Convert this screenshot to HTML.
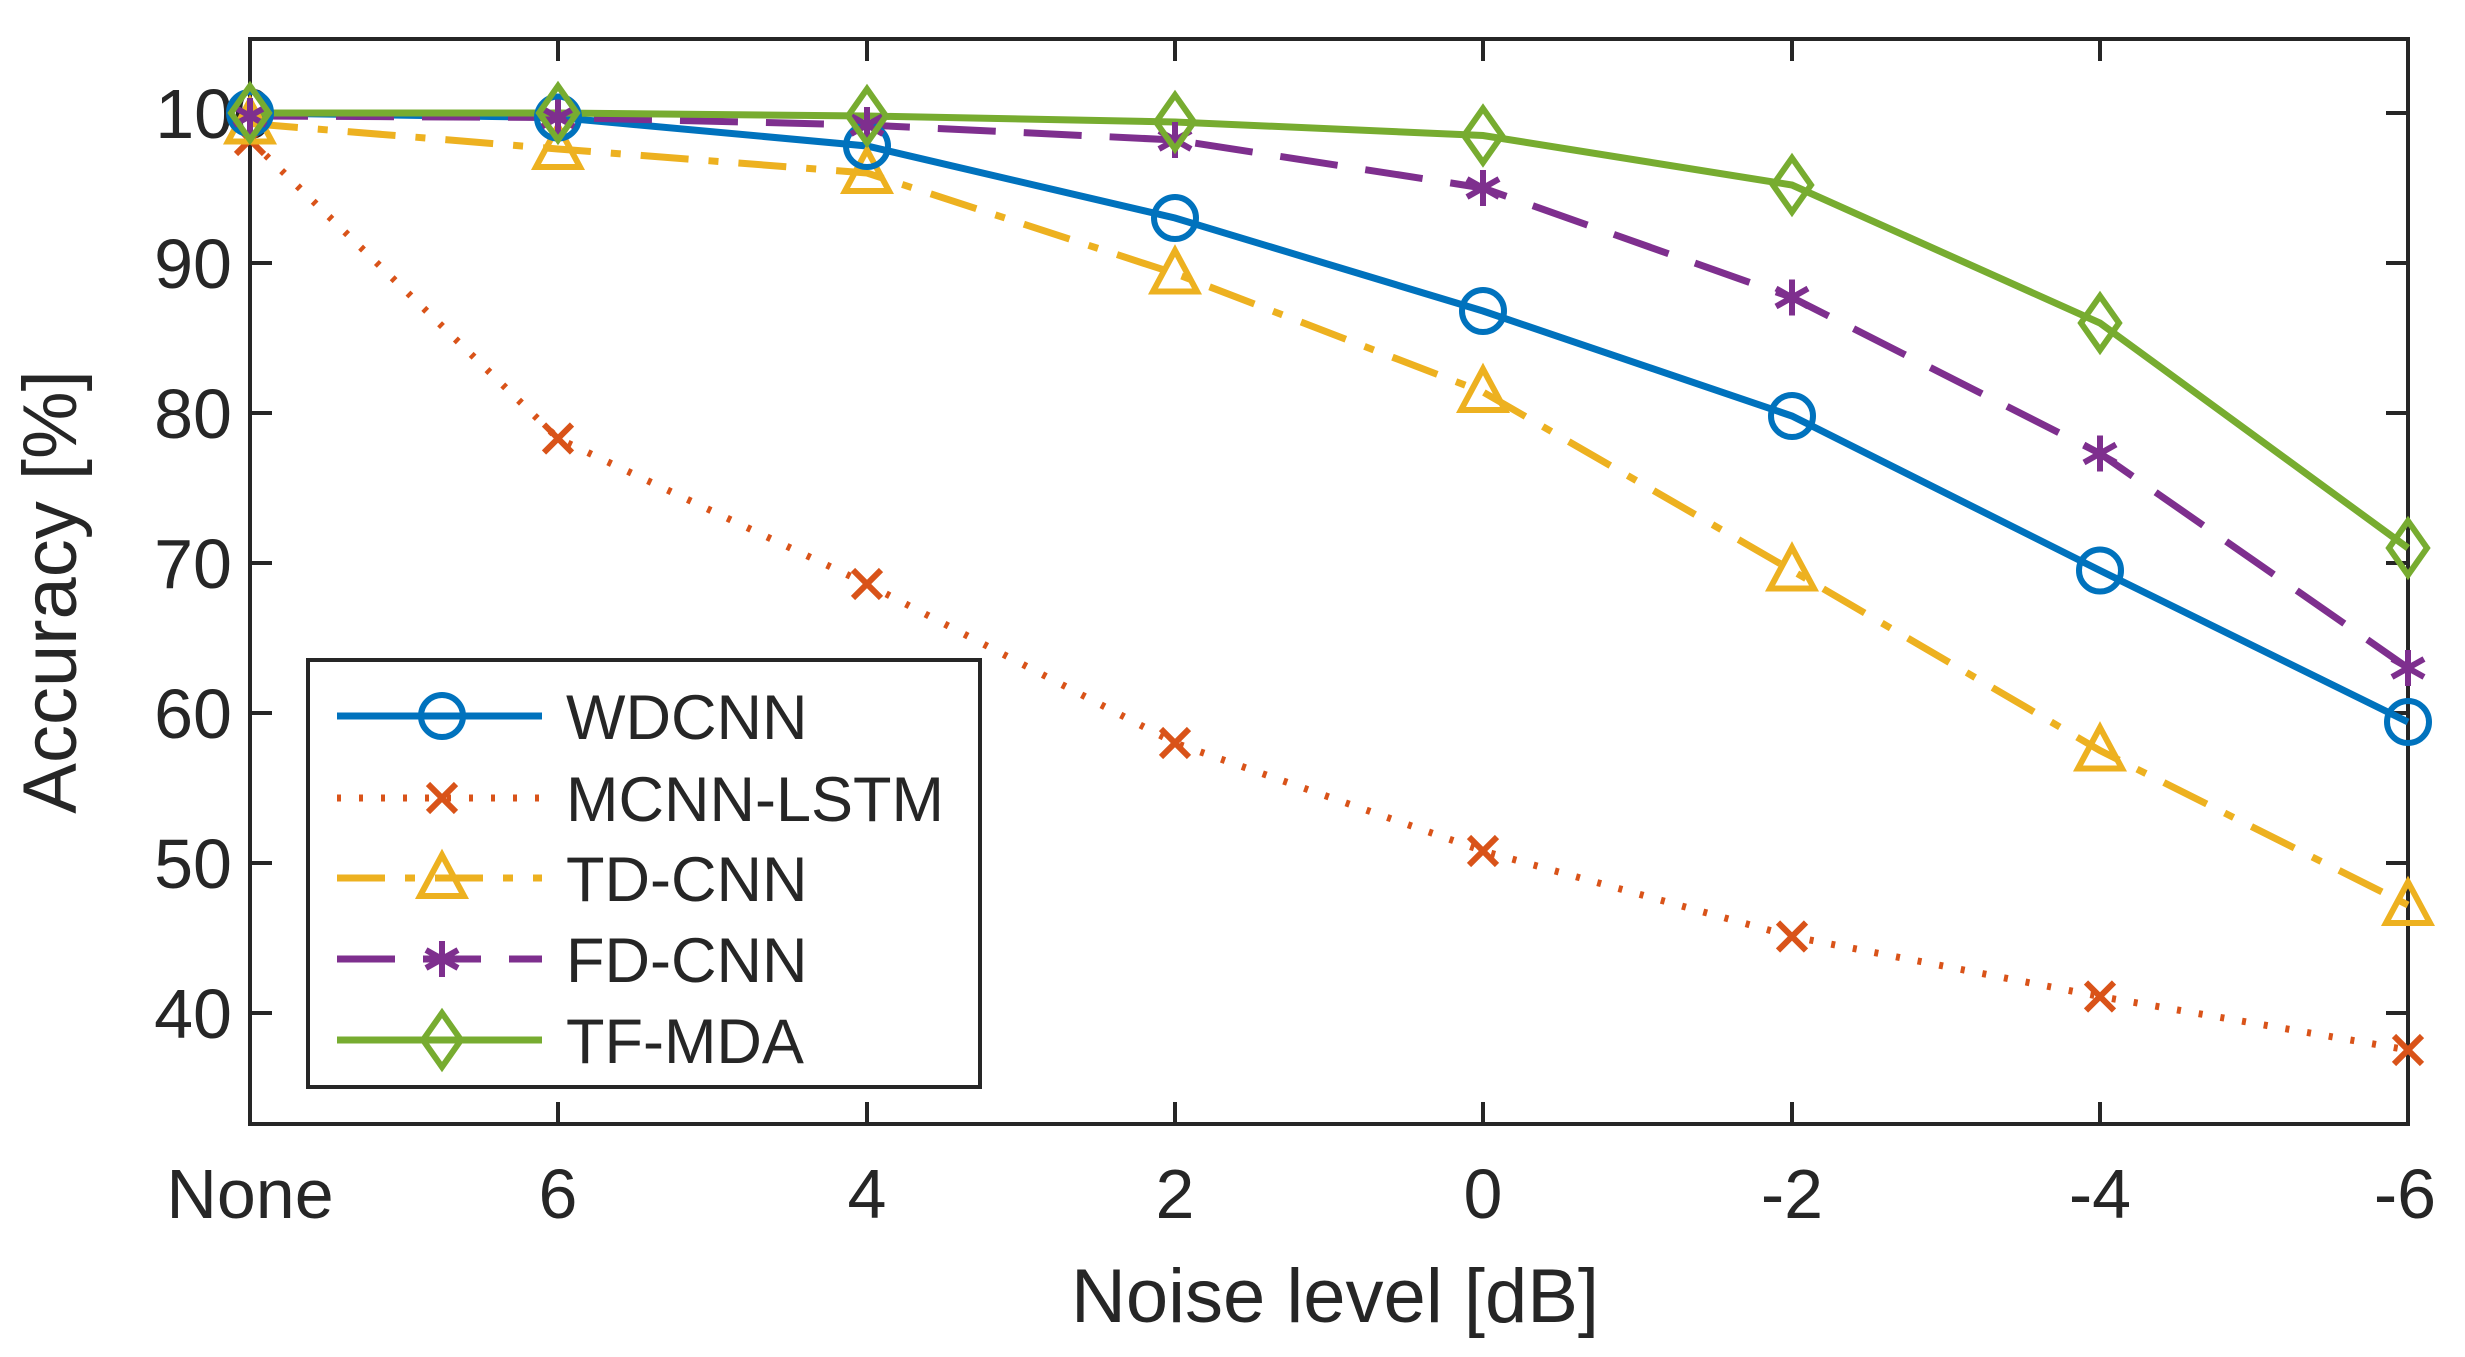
<!DOCTYPE html>
<html><head><style>html,body{margin:0;padding:0;background:#fff}svg{display:block}text{font-family:"Liberation Sans",sans-serif;fill:#262626}</style></head>
<body>
<svg width="2465" height="1357" viewBox="0 0 2465 1357" xmlns="http://www.w3.org/2000/svg">
<defs>
<g id="mc"><circle r="21" fill="none" stroke="#0072BD" stroke-width="6"/></g>
<g id="mx"><path d="M-14,-14L14,14M-14,14L14,-14" stroke="#D95319" stroke-width="6"/></g>
<g id="mt"><path d="M0,-23L22,18L-22,18Z" fill="none" stroke="#EDB120" stroke-width="6"/></g>
<g id="ms"><path d="M0,-18V18M-16,-9L16,9M-16,9L16,-9" stroke="#7E2F8E" stroke-width="6"/></g>
<g id="md"><path d="M0,-27L19,0L0,27L-19,0Z" fill="none" stroke="#77AC30" stroke-width="6"/></g>
</defs>
<rect x="250" y="39" width="2158" height="1085" fill="#fff" stroke="#262626" stroke-width="4"/>
<g stroke="#262626" stroke-width="4">
<path d="M558,39v22M867,39v22M1175,39v22M1483,39v22M1792,39v22M2100,39v22M558,1124v-22M867,1124v-22M1175,1124v-22M1483,1124v-22M1792,1124v-22M2100,1124v-22"/>
<path d="M250,113h22M250,263h22M250,413h22M250,563h22M250,713h22M250,863h22M250,1013h22M2408,113h-22M2408,263h-22M2408,413h-22M2408,563h-22M2408,713h-22M2408,863h-22M2408,1013h-22"/>
</g>
<g font-size="70" text-anchor="end">
<text x="272" y="138">100</text><text x="232" y="288">90</text><text x="232" y="438">80</text><text x="232" y="588">70</text><text x="232" y="738">60</text><text x="232" y="888">50</text><text x="232" y="1038">40</text>
</g>
<g font-size="70" text-anchor="middle">
<text x="250" y="1218">None</text><text x="558" y="1218">6</text><text x="867" y="1218">4</text><text x="1175" y="1218">2</text><text x="1483" y="1218">0</text><text x="1792" y="1218">-2</text><text x="2100" y="1218">-4</text><text x="2405" y="1218">-6</text>
</g>
<g font-size="76" text-anchor="middle">
<text x="1335" y="1322">Noise level [dB]</text>
<text transform="translate(76,592) rotate(-90)">Accuracy [%]</text>
</g>
<g fill="none" stroke-width="7">
<polyline stroke="#D95319" stroke-dasharray="4 18" points="250,140 558,438.5 867,584 1175,743 1483,851 1792,936.5 2100,996.5 2408,1050"/>
<polyline stroke="#EDB120" stroke-dasharray="48 20 10 20" points="250,123.5 558,149 867,173 1175,273.5 1483,392 1792,570.5 2100,750.5 2408,905"/>
<polyline stroke="#0072BD" points="250,113 558,117.5 867,146 1175,218 1483,311 1792,416 2100,570.5 2408,722"/>
<polyline stroke="#7E2F8E" stroke-dasharray="58 28" points="250,116 558,117.5 867,125 1175,140 1483,188 1792,297.5 2100,453.5 2408,668"/>
<polyline stroke="#77AC30" points="250,113 558,113 867,116 1175,122 1483,135.5 1792,185 2100,323 2408,548"/>
</g>
<g>
<use href="#mx" x="250" y="140"/><use href="#mx" x="558" y="438.5"/><use href="#mx" x="867" y="584"/><use href="#mx" x="1175" y="743"/><use href="#mx" x="1483" y="851"/><use href="#mx" x="1792" y="936.5"/><use href="#mx" x="2100" y="996.5"/><use href="#mx" x="2408" y="1050"/>
<use href="#mt" x="250" y="123.5"/><use href="#mt" x="558" y="149"/><use href="#mt" x="867" y="173"/><use href="#mt" x="1175" y="273.5"/><use href="#mt" x="1483" y="392"/><use href="#mt" x="1792" y="570.5"/><use href="#mt" x="2100" y="750.5"/><use href="#mt" x="2408" y="905"/>
<use href="#mc" x="250" y="113"/><use href="#mc" x="558" y="117.5"/><use href="#mc" x="867" y="146"/><use href="#mc" x="1175" y="218"/><use href="#mc" x="1483" y="311"/><use href="#mc" x="1792" y="416"/><use href="#mc" x="2100" y="570.5"/><use href="#mc" x="2408" y="722"/>
<use href="#ms" x="250" y="116"/><use href="#ms" x="558" y="117.5"/><use href="#ms" x="867" y="125"/><use href="#ms" x="1175" y="140"/><use href="#ms" x="1483" y="188"/><use href="#ms" x="1792" y="297.5"/><use href="#ms" x="2100" y="453.5"/><use href="#ms" x="2408" y="668"/>
<use href="#md" x="250" y="113"/><use href="#md" x="558" y="113"/><use href="#md" x="867" y="116"/><use href="#md" x="1175" y="122"/><use href="#md" x="1483" y="135.5"/><use href="#md" x="1792" y="185"/><use href="#md" x="2100" y="323"/><use href="#md" x="2408" y="548"/>
</g>
<rect x="308" y="660" width="672" height="427" fill="#fff" stroke="#262626" stroke-width="4"/>
<g fill="none" stroke-width="7">
<path d="M337,716H542" stroke="#0072BD"/>
<path d="M337,798H542" stroke="#D95319" stroke-dasharray="4 18"/>
<path d="M337,878H542" stroke="#EDB120" stroke-dasharray="48 20 10 20"/>
<path d="M337,959H542" stroke="#7E2F8E" stroke-dasharray="58 28"/>
<path d="M337,1040H542" stroke="#77AC30"/>
</g>
<use href="#mc" x="442" y="716"/><use href="#mx" x="442" y="798"/><use href="#mt" x="442" y="878"/><use href="#ms" x="442" y="959"/><use href="#md" x="442" y="1040"/>
<g font-size="63">
<text x="566" y="739">WDCNN</text><text x="566" y="821">MCNN-LSTM</text><text x="566" y="901">TD-CNN</text><text x="566" y="982">FD-CNN</text><text x="566" y="1063">TF-MDA</text>
</g>
</svg>
</body></html>
